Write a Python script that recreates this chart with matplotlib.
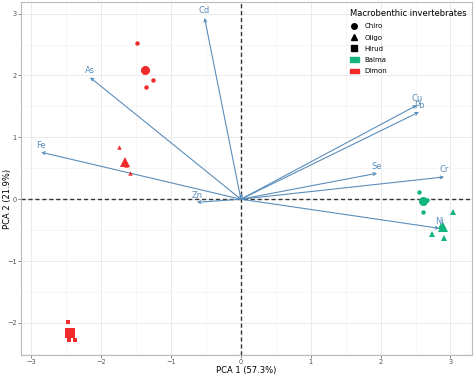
import matplotlib.pyplot as plt
from matplotlib.lines import Line2D
from matplotlib.patches import Patch

# sample scores (PC1, PC2)
dimon_chiro_x = [-1.49, -1.26, -1.36]
dimon_chiro_y = [2.52, 1.93, 1.81]
dimon_oligo_x = [-1.75, -1.66, -1.64, -1.59]
dimon_oligo_y = [0.84, 0.58, 0.55, 0.42]
dimon_hirud_x = [-2.48, -2.46, -2.38]
dimon_hirud_y = [-1.98, -2.28, -2.28]
balma_chiro_x = [2.55, 2.60, 2.66, 2.61, 2.63]
balma_chiro_y = [0.11, -0.05, -0.01, -0.20, -0.02]
balma_oligo_x = [3.03, 2.74, 2.91, 2.86]
balma_oligo_y = [-0.21, -0.57, -0.63, -0.44]

# group centroids (larger markers)
centroid_x = [-1.37, -1.66, -2.44, 2.61, 2.89]
centroid_y = [2.09, 0.60, -2.17, -0.03, -0.45]
centroid_marker = ['o', '^', 's', 'o', '^']
centroid_site = ['Dimon', 'Dimon', 'Dimon', 'Balma', 'Balma']

# loadings
var_names = ['Cd', 'As', 'Fe', 'Cu', 'Pb', 'Se', 'Cr', 'Zn', 'Ni', '']
var_x = [-0.52, -2.16, -2.86, 2.52, 2.55, 1.95, 2.91, -0.63, 2.84, 0.01]
var_y = [2.93, 1.97, 0.76, 1.52, 1.41, 0.42, 0.36, -0.05, -0.47, 0.10]

RED = '#EE2A2A'
GREEN = '#14B57C'
ARROW = '#5B8DBA'
colors = {'Dimon': RED, 'Balma': GREEN}

fig = plt.figure(figsize=(4.74, 3.75), dpi=100)
ax = fig.add_axes([0.044, 0.053, 0.952, 0.942])

ax.set_xlim(-3.15, 3.31)
ax.set_ylim(-2.52, 3.19)

# ggplot-ish grid
for v in [-2.5, -1.5, -0.5, 0.5, 1.5, 2.5]:
    ax.axvline(v, color='#F3F3F3', lw=0.5, zorder=0)
for v in [-2.5, -1.5, -0.5, 0.5, 1.5, 2.5]:
    ax.axhline(v, color='#F3F3F3', lw=0.5, zorder=0)
ax.set_xticks([-3, -2, -1, 0, 1, 2, 3])
ax.set_yticks([-2, -1, 0, 1, 2, 3])
ax.grid(True, color='#EBEBEB', lw=0.7, zorder=0)
ax.set_axisbelow(True)
for s in ax.spines.values():
    s.set_color('#BBBBBB')
    s.set_linewidth(0.8)
ax.tick_params(labelsize=4.8, colors='#555555', length=2, width=0.5, pad=1)

ax.axhline(0, color='#333333', lw=1.0, ls=(0, (3, 2)), zorder=1)
ax.axvline(0, color='#333333', lw=1.0, ls=(0, (3, 2)), zorder=1)

ms = 3.2
ax.plot(dimon_chiro_x, dimon_chiro_y, 'o', color=RED, ms=ms, mew=0, zorder=3)
ax.plot(dimon_oligo_x, dimon_oligo_y, '^', color=RED, ms=ms, mew=0, zorder=3)
ax.plot(dimon_hirud_x, dimon_hirud_y, 's', color=RED, ms=ms, mew=0, zorder=3)
ax.plot(balma_chiro_x, balma_chiro_y, 'o', color=GREEN, ms=ms, mew=0, zorder=3)
ax.plot(balma_oligo_x, balma_oligo_y, '^', color=GREEN, ms=ms + 1, mew=0, zorder=3)
for cx, cy, m, site in zip(centroid_x, centroid_y, centroid_marker, centroid_site):
    ax.plot(cx, cy, m, color=colors[site], ms=6.5, mew=0, zorder=3)

for name, vx, vy in zip(var_names, var_x, var_y):
    ax.annotate('', xy=(vx, vy), xytext=(0, 0),
                arrowprops=dict(arrowstyle='->', color=ARROW, lw=0.8,
                                shrinkA=0, shrinkB=0, mutation_scale=5),
                zorder=2)
    if name:
        ax.text(vx, vy + 0.04, name, color=ARROW, fontsize=6,
                ha='center', va='bottom', zorder=4)

ax.set_xlabel('PCA 1 (57.3%)', fontsize=6, labelpad=0.5)
fig.text(0.016, 0.47, 'PCA 2 (21.9%)', fontsize=6, rotation=90,
         ha='center', va='center')

handles = [
    Line2D([], [], marker='o', ls='', color='black', ms=4),
    Line2D([], [], marker='^', ls='', color='black', ms=4),
    Line2D([], [], marker='s', ls='', color='black', ms=4),
    Patch(color=GREEN),
    Patch(color=RED),
]
labels = ['Chiro', 'Oligo', 'Hirud', 'Balma', 'Dimon']
leg = ax.legend(handles, labels, title='Macrobenthic invertebrates',
                loc='upper right', bbox_to_anchor=(1.0, 0.995), frameon=False,
                fontsize=5, title_fontsize=6, handlelength=1.3, handleheight=0.6,
                labelspacing=0.75, borderpad=0.3)
leg._legend_box.align = 'left'

fig.savefig('out.png', dpi=100)
